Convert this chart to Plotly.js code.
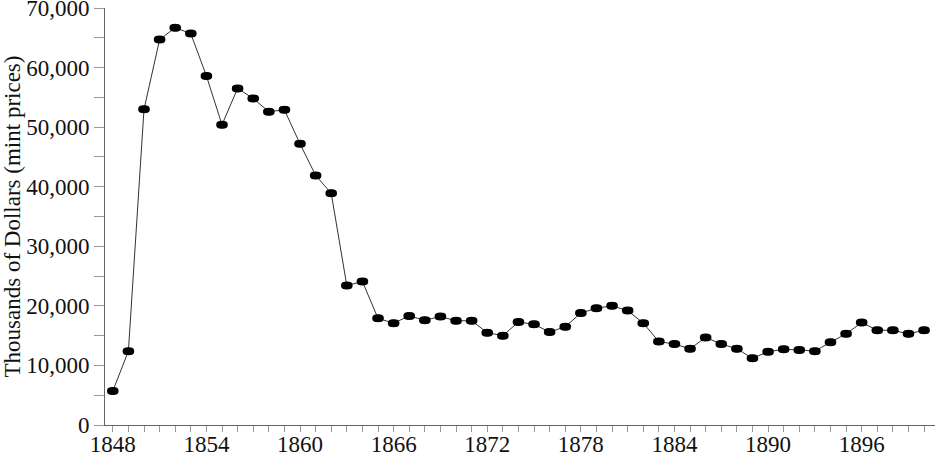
<!DOCTYPE html>
<html>
<head>
<meta charset="utf-8">
<script src="https://cdn.plot.ly/plotly-3.0.1.min.js"></script>
<style>html,body{margin:0;padding:0;background:#fff;}#chart{width:935px;height:453px;}</style>
</head>
<body>
<div id="chart"></div>
<script>
const years = [];
for (let y = 1848; y <= 1900; y++) years.push(y);
const production = [
  5700, 12400, 53000, 64700, 66700, 65700, 58600, 50400, 56500, 54800,
  52600, 52900, 47200, 41900, 38900, 23400, 24100, 17900, 17100, 18300,
  17600, 18200, 17500, 17500, 15500, 15000, 17300, 16900, 15600, 16500,
  18800, 19600, 20000, 19200, 17100, 14000, 13600, 12800, 14700, 13600,
  12800, 11200, 12300, 12700, 12600, 12400, 13900, 15300, 17200, 15900,
  15900, 15300, 15900
];
const xTickVals = [1848, 1854, 1860, 1866, 1872, 1878, 1884, 1890, 1896];
const yTickVals = [0, 10000, 20000, 30000, 40000, 50000, 60000, 70000];

const xr = [1847.5, 1900.7];
const d = 0.13;
const font = {family: 'Liberation Serif, Times New Roman, serif', size: 23, color: '#111'};

const traces = [
  {x: years, y: production, type: 'scatter', mode: 'lines', line: {color: '#333', width: 1}, hoverinfo: 'skip', xaxis: 'x'},
  {x: years, y: production, type: 'scatter', mode: 'markers', marker: {color: '#000', size: 7.5}, xaxis: 'x2'},
  {x: years, y: production, type: 'scatter', mode: 'markers', marker: {color: '#000', size: 7.5}, xaxis: 'x3'},
  {x: years, y: production, type: 'scatter', mode: 'markers', marker: {color: '#000', size: 8}, xaxis: 'x'}
];

const hidden = {overlaying: 'x', visible: false, showgrid: false, zeroline: false};
const layout = {
  width: 935, height: 453,
  margin: {l: 105, r: 0, t: 8, b: 28},
  paper_bgcolor: '#fff', plot_bgcolor: '#fff',
  showlegend: false,
  font: font,
  xaxis: {
    range: xr, showgrid: false, zeroline: false,
    showline: true, linecolor: '#666', linewidth: 1,
    tickmode: 'array', tickvals: xTickVals,
    ticks: 'outside', ticklen: 6, tickcolor: '#999', tickwidth: 1,
    minor: {dtick: 1, tick0: 1848, ticks: 'outside', ticklen: 6, tickcolor: '#999', tickwidth: 1, showgrid: false},
    tickfont: font, ticklabeloverflow: 'allow', ticklabelstandoff: -8,
    automargin: false
  },
  xaxis2: Object.assign({range: [xr[0] - d, xr[1] - d]}, hidden),
  xaxis3: Object.assign({range: [xr[0] + d, xr[1] + d]}, hidden),
  yaxis: {
    range: [0, 70000], showgrid: false, zeroline: false,
    showline: true, linecolor: '#666', linewidth: 1,
    tickmode: 'array', tickvals: yTickVals, tickformat: ',d',
    ticks: 'outside', ticklen: 10, tickcolor: '#999', tickwidth: 1,
    minor: {dtick: 5000, tick0: 0, ticks: 'outside', ticklen: 10, tickcolor: '#999', tickwidth: 1, showgrid: false},
    tickfont: font, ticklabeloverflow: 'allow',
    automargin: false,
    title: {text: 'Thousands of Dollars (mint prices)', font: font, standoff: -2}
  }
};
Plotly.newPlot('chart', traces, layout, {staticPlot: true, displayModeBar: false});
</script>
</body>
</html>
